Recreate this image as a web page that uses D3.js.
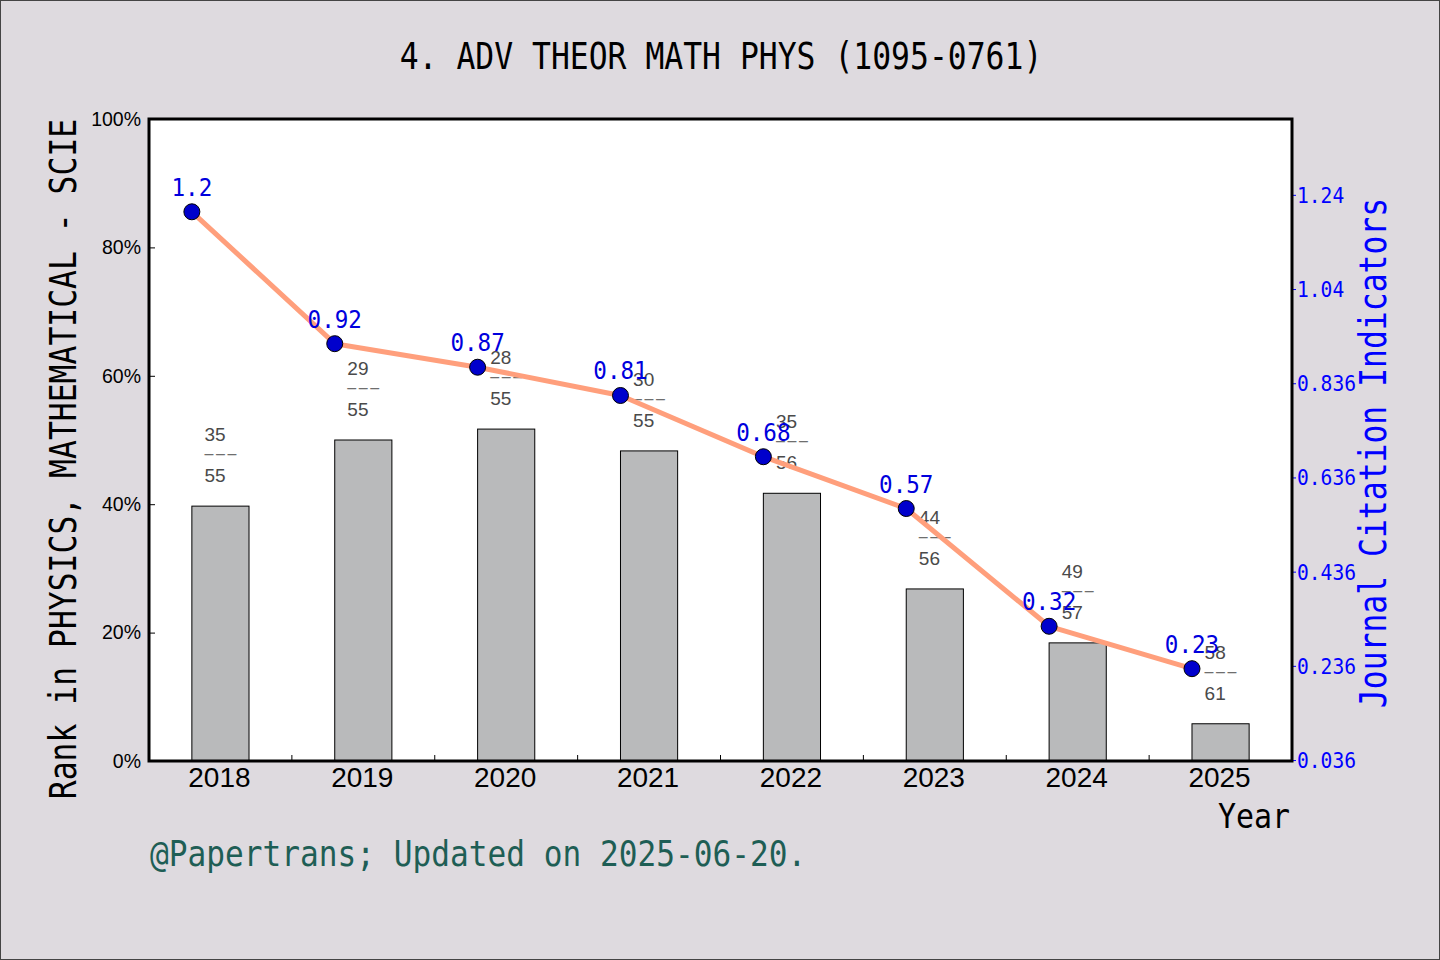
<!DOCTYPE html>
<html>
<head>
<meta charset="utf-8">
<script src="https://cdn.jsdelivr.net/npm/d3@7"></script>
<style>
  html, body { margin: 0; padding: 0; background: #dedadf; }
  svg { display: block; }
</style>
</head>
<body>
<svg id="chart" width="1440" height="960"></svg>
<script>
// data
const years = ["2018", "2019", "2020", "2021", "2022", "2023", "2024", "2025"];
const rankPct = [39.7, 50.0, 51.7, 48.3, 41.7, 26.8, 18.4, 5.8];
const ranks = [35, 29, 28, 30, 35, 44, 49, 58];
const totals = [55, 55, 55, 55, 56, 56, 57, 61];
const jci = [1.2, 0.92, 0.87, 0.81, 0.68, 0.57, 0.32, 0.23];
const pctTicks = [0, 20, 40, 60, 80, 100];
const jciTicks = [0.036, 0.236, 0.436, 0.636, 0.836, 1.036, 1.236];

const W = 1440, H = 960;
const margin = { left: 149, right: 148, top: 119, bottom: 199 };
const plotW = W - margin.left - margin.right;
const plotH = H - margin.top - margin.bottom;

// mono font squeezed to a half-em advance, to look like SimHei latin
const MONO = "'DejaVu Sans Mono', 'Liberation Mono', monospace";
const SANS = "'Liberation Sans', Arial, sans-serif";

const svg = d3.select("#chart");

svg.append("rect")
  .attr("x", 0.5).attr("y", 0.5)
  .attr("width", W - 1).attr("height", H - 1)
  .attr("fill", "#dedadf")
  .attr("stroke", "#444").attr("stroke-width", 1);

function monoText(sel, str, size, adv) {
  sel.text(str)
    .attr("font-family", MONO)
    .attr("font-size", size)
    .attr("textLength", str.length * adv)
    .attr("lengthAdjust", "spacingAndGlyphs");
  return sel;
}

const x = d3.scaleBand().domain(years).range([0, plotW]).padding(0);
const yL = d3.scaleLinear().domain([0, 100]).range([plotH, 0]);
const yR = d3.scaleLinear().domain([0.034, 1.397]).range([plotH, 0]);
const barW = x.bandwidth() * 0.4;

const g = svg.append("g").attr("transform", `translate(${margin.left},${margin.top})`);

g.append("rect")
  .attr("width", plotW).attr("height", plotH)
  .attr("fill", "#fff");

// bars
g.selectAll(".bar")
  .data(years)
  .join("rect")
  .attr("class", "bar")
  .attr("x", d => x(d) + x.bandwidth() / 2 - barW / 2)
  .attr("y", (d, i) => yL(rankPct[i]))
  .attr("width", barW)
  .attr("height", (d, i) => plotH - yL(rankPct[i]))
  .attr("fill", "#b9babb")
  .attr("stroke", "#000")
  .attr("stroke-width", 1);

// rank labels above bars
const rankG = g.selectAll(".rank")
  .data(years)
  .join("g")
  .attr("class", "rank")
  .attr("transform", (d, i) => `translate(${x(d) + x.bandwidth() / 2 - 16},${yL(rankPct[i])})`);

rankG.append("text")
  .attr("y", -65)
  .attr("font-family", SANS).attr("font-size", 19)
  .attr("fill", "#4a4a4a")
  .text((d, i) => ranks[i]);
rankG.append("text")
  .attr("y", -47)
  .attr("font-family", SANS).attr("font-size", 16)
  .attr("letter-spacing", 2.6)
  .attr("fill", "#6e6e6e")
  .text("\u2013\u2013\u2013");
rankG.append("text")
  .attr("y", -24)
  .attr("font-family", SANS).attr("font-size", 19)
  .attr("fill", "#4a4a4a")
  .text((d, i) => totals[i]);

// JCI line
const px = d => x(d) + x.bandwidth() / 2 - barW / 2;
const line = d3.line()
  .x((d, i) => px(years[i]))
  .y(d => yR(d));

g.append("path")
  .datum(jci)
  .attr("d", line)
  .attr("fill", "none")
  .attr("stroke", "#ff9f7c")
  .attr("stroke-width", 5)
  .attr("stroke-linejoin", "round");

g.selectAll(".dot")
  .data(jci)
  .join("circle")
  .attr("class", "dot")
  .attr("cx", (d, i) => px(years[i]))
  .attr("cy", d => yR(d))
  .attr("r", 8)
  .attr("fill", "#0000cc")
  .attr("stroke", "#000")
  .attr("stroke-width", 1);

g.selectAll(".val")
  .data(jci)
  .join("text")
  .attr("class", "val")
  .attr("x", (d, i) => px(years[i]))
  .attr("y", d => yR(d) - 16)
  .attr("text-anchor", "middle")
  .attr("fill", "#0000dd")
  .each(function (d) { monoText(d3.select(this), String(d), 25, 13.6); });

// left axis
const leftAxis = g.append("g")
  .call(d3.axisLeft(yL).tickValues(pctTicks).tickFormat(d => d + "%").tickSize(-6).tickPadding(8));
leftAxis.select(".domain").remove();
leftAxis.selectAll("line").attr("stroke", "#000");
leftAxis.selectAll("text")
  .attr("font-family", SANS).attr("font-size", 19.5).attr("fill", "#000");

// bottom axis: ticks at band edges, labels at band centres
const edges = years.map(d => x(d)).concat([plotW]);
g.selectAll(".xtick")
  .data(edges)
  .join("line")
  .attr("class", "xtick")
  .attr("x1", d => d).attr("x2", d => d)
  .attr("y1", plotH).attr("y2", plotH - 6)
  .attr("stroke", "#000");

g.selectAll(".xlab")
  .data(years)
  .join("text")
  .attr("class", "xlab")
  .attr("x", d => x(d) + x.bandwidth() / 2 - 1)
  .attr("y", plotH + 26)
  .attr("text-anchor", "middle")
  .attr("font-family", SANS).attr("font-size", 28)
  .attr("fill", "#000")
  .text(d => d);

// right axis
const rightAxis = g.append("g")
  .attr("transform", `translate(${plotW},0)`)
  .call(d3.axisRight(yR).tickValues(jciTicks).tickSize(4).tickPadding(1));
rightAxis.select(".domain").remove();
rightAxis.selectAll("line").attr("stroke", "#0000ff");
rightAxis.selectAll("text")
  .attr("fill", "#0000ff")
  .attr("dy", "0.35em")
  .each(function (d) { monoText(d3.select(this), d3.format(".3~r")(d), 21, 11.8); });

// frame
g.append("rect")
  .attr("width", plotW).attr("height", plotH)
  .attr("fill", "none")
  .attr("stroke", "#000")
  .attr("stroke-width", 3);

// titles
monoText(svg.append("text"), "4. ADV THEOR MATH PHYS (1095-0761)", 37, 18.9)
  .attr("x", W / 2 + 1).attr("y", 69)
  .attr("text-anchor", "middle")
  .attr("fill", "#000");

monoText(svg.append("text"), "Rank in PHYSICS, MATHEMATICAL - SCIE", 37, 18.9)
  .attr("transform", `translate(76,459) rotate(-90)`)
  .attr("text-anchor", "middle")
  .attr("fill", "#000");

monoText(svg.append("text"), "Journal Citation Indicators", 37, 18.9)
  .attr("transform", `translate(1386,453) rotate(-90)`)
  .attr("text-anchor", "middle")
  .attr("fill", "#0000ff");

monoText(svg.append("text"), "Year", 34, 18)
  .attr("x", 1218).attr("y", 828)
  .attr("fill", "#000");

monoText(svg.append("text"), "@Papertrans; Updated on 2025-06-20.", 36, 18.75)
  .attr("x", 150).attr("y", 866)
  .attr("fill", "#1e5e55");
</script>
</body>
</html>
